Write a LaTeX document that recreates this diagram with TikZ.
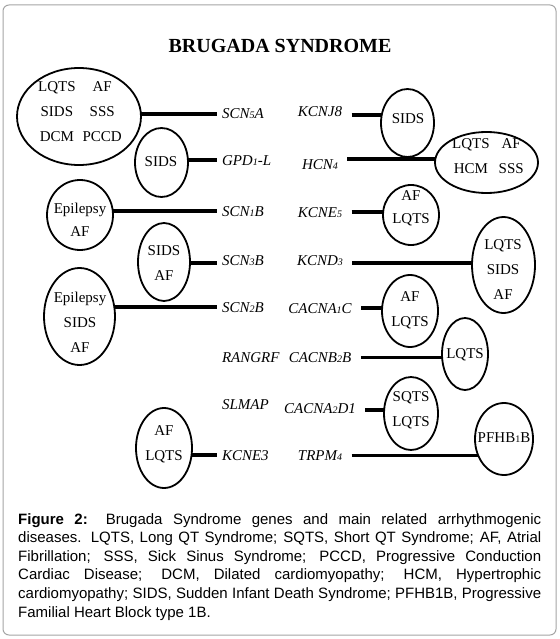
\documentclass[tikz,border=0pt]{standalone}
\usepackage{fontspec}
\setmainfont{Liberation Serif}
\newfontfamily\capfont{Liberation Sans}
\usetikzlibrary{backgrounds,shapes.geometric}
\definecolor{framegray}{RGB}{165,165,165}
% small digits inside gene names
\newcommand{\sd}[1]{{\fontsize{10}{10}\selectfont #1}}
\tikzset{
    dz/.style={ellipse, draw=black, fill=white, line width=1.8pt, inner sep=0pt},
    dztext/.style={align=center, inner sep=0pt, font=\fontsize{15}{25}\selectfont},
    genel/.style={anchor=west, inner sep=0pt, outer xsep=5pt, text height=10pt, text depth=0pt, font=\fontsize{15}{18}\selectfont\itshape},
    gener/.style={inner sep=0pt, outer xsep=9.5pt, text height=10pt, text depth=0pt, font=\fontsize{15}{18}\selectfont\itshape},
    wire/.style={line width=3.3pt},
    thickwire/.style={line width=4.3pt}
}

\begin{document}
\begin{tikzpicture}
  [
    x = 1pt,
    y = -1pt,
  ]
  \useasboundingbox (0,0) rectangle (559,639);
  \draw [framegray, line width=1pt, rounded corners=6pt] (3,5) rectangle (556,635);
  \node [font=\bfseries\fontsize{20}{24}\selectfont, inner sep=0pt] (title) at (280,46) {BRUGADA SYNDROME};

  % left genes
  \node [genel] (g5a) at (217,114) {SCN\sd{5}A};
  \node [genel] (ggpd) at (217,160) {GPD\sd{1}-L};
  \node [genel] (g1b) at (217,211) {SCN\sd{1}B};
  \node [genel] (g3b) at (217,260) {SCN\sd{3}B};
  \node [genel] (g2b) at (217,307) {SCN\sd{2}B};
  \node [genel] (grang) at (217,357) {RANGRF};
  \node [genel] (gslm) at (217,404) {SLMAP};
  \node [genel] (ge3) at (217,455) {KCNE3};

  % right genes
  \node [gener] (gj8) at (320,111.5) {KCNJ8};
  \node [gener] (ghcn) at (320,164) {HCN\sd{4}};
  \node [gener] (ge5) at (320,212) {KCNE\sd{5}};
  \node [gener] (gd3) at (320,260.5) {KCND\sd{3}};
  \node [gener] (g1c) at (320,308) {CACNA\sd{1}C};
  \node [gener] (gb2) at (320,357.5) {CACNB\sd{2}B};
  \node [gener] (gd1) at (320,408.5) {CACNA\sd{2}D1};
  \node [gener] (gtr) at (320,455.5) {TRPM\sd{4}};

  % disease ellipses, left
  \node [dz, minimum width=124pt, minimum height=97pt] (e5a) at (79,116.5) {};
  \node [dz, minimum width=53pt, minimum height=69pt] (egpd) at (161.5,162.5) {};
  \node [dz, minimum width=66pt, minimum height=70pt] (e1b) at (80,215) {};
  \node [dz, minimum width=52pt, minimum height=78pt] (e3b) at (164,262) {};
  \node [dz, minimum width=71pt, minimum height=97pt] (e2b) at (79.5,316.5) {};
  \node [dz, minimum width=56pt, minimum height=80pt] (ee3) at (164,448) {};

  % disease ellipses, right
  \node [dz, minimum width=53pt, minimum height=68pt] (ej8) at (407.5,123) {};
  \node [dz, minimum width=103pt, minimum height=61pt] (ehcn) at (486.5,162.5) {};
  \node [dz, minimum width=56pt, minimum height=60pt] (ee5) at (411,215) {};
  \node [dz, minimum width=63pt, minimum height=96pt] (ed3) at (503.5,265) {};
  \node [dz, minimum width=56pt, minimum height=72pt] (e1c) at (410,311) {};
  \node [dz, minimum width=46pt, minimum height=72pt] (eb2) at (465,354) {};
  \node [dz, minimum width=54pt, minimum height=73pt] (ed1) at (411,413.5) {};
  \node [dz, minimum width=58pt, minimum height=72pt] (etr) at (504,439) {};

  % texts in the ellipses
  \node [dztext] (t5a) at (80,112) {\begin{tabular}{@{}c@{\hspace{7pt}}c@{}}LQTS & AF\\ SIDS & SSS\\ DCM & PCCD\end{tabular}};
  \node [dztext] (tgpd) at (161,162) {SIDS};
  \node [dztext] (t1b) at (80,219.5) {Epilepsy\\[-2pt]AF};
  \node [dztext] (t3b) at (164,263.5) {SIDS\\AF};
  \node [dztext] (t2b) at (80,322) {Epilepsy\\SIDS\\AF};
  \node [dztext] (te3) at (164,444.5) {AF\\LQTS};
  \node [dztext] (tj8) at (408,119) {SIDS};
  \node [dztext] (thcn) at (488,156) {\begin{tabular}{@{}c@{\hspace{9pt}}c@{}}LQTS & AF\\ HCM & SSS\end{tabular}};
  \node [dztext] (te5) at (411,208.5) {AF\\[-2pt]LQTS};
  \node [dztext] (td3) at (503,269.5) {LQTS\\SIDS\\AF};
  \node [dztext] (t1c) at (410,310.5) {AF\\LQTS};
  \node [dztext] (tb2) at (465,355) {LQTS};
  \node [dztext] (td1) at (411,410.5) {SQTS\\LQTS};
  \node [dztext] (ttr) at (504,438) {PFHB\sd{1}B};

  % connectors, kept under the ellipses
  \begin{pgfonlayer}{background}
    \draw [thickwire] (e5a.center |- g5a.west) -- (g5a.west);
    \draw [wire] (egpd.center |- ggpd.west) -- (ggpd.west);
    \draw [wire] (e1b.center |- g1b.west) -- (g1b.west);
    \draw [wire] ([yshift=-3pt]e3b.center |- g3b.west) -- ([yshift=-3pt]g3b.west);
    \draw [wire] (e2b.center |- g2b.west) -- (g2b.west);
    \draw [wire] (ee3.center |- ge3.west) -- (ge3.west);
    \draw [thickwire] ([yshift=-3.5pt]gj8.east) -- ([yshift=-3.5pt]ej8.center |- gj8.east);
    \draw [wire] ([yshift=5pt]ghcn.east) -- ([yshift=5pt]ehcn.center |- ghcn.east);
    \draw [wire] (ge5.east) -- (ee5.center |- ge5.east);
    \draw [wire] ([yshift=-2.5pt]gd3.east) -- ([yshift=-2.5pt]ed3.center |- gd3.east);
    \draw [wire] (g1c.east) -- (e1c.center |- g1c.east);
    \draw [wire] (gb2.east) -- (eb2.center |- gb2.east);
    \draw [thickwire] ([yshift=-1.5pt]gd1.east) -- ([yshift=-1.5pt]ed1.center |- gd1.east);
    \draw [wire] (gtr.east) -- (etr.center |- gtr.east);
  \end{pgfonlayer}

  % caption
  \node [anchor=north west, inner sep=0pt, text width=523pt, align=justify,
         font=\capfont\fontsize{15}{18.6}\selectfont] (cap) at (18,513)
    {\hyphenpenalty=10000 \textbf{Figure 2:} Brugada Syndrome genes and main related arrhythmogenic\linebreak
     diseases. LQTS, Long QT Syndrome; SQTS, Short QT Syndrome; AF, Atrial\linebreak
     Fibrillation; SSS, Sick Sinus Syndrome; PCCD, Progressive Conduction\linebreak
     Cardiac Disease; DCM, Dilated cardiomyopathy; HCM, Hypertrophic\linebreak
     cardiomyopathy; SIDS, Sudden Infant Death Syndrome; PFHB1B, Progressive\linebreak
     Familial Heart Block type 1B.};
\end{tikzpicture}
\end{document}
